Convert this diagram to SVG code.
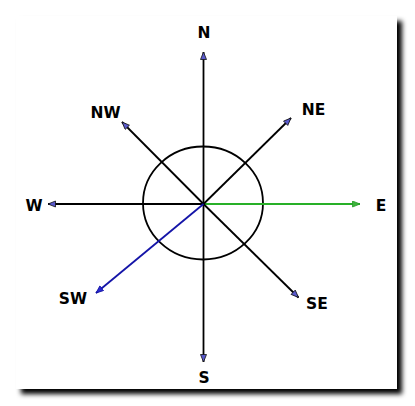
<svg xmlns="http://www.w3.org/2000/svg" width="415" height="406" viewBox="0 0 415 406">
<style>
.lbl{font-family:"DejaVu Sans",sans-serif;font-weight:bold;font-size:15.5px;fill:#000;text-anchor:middle}
.ln{stroke:#000;stroke-width:1.8;fill:none}
</style>
<defs>
<filter id="sh" x="-10%" y="-10%" width="125%" height="125%">
<feGaussianBlur in="SourceAlpha" stdDeviation="2.8" result="b"/>
<feOffset in="b" dx="5" dy="5" result="o"/>
<feComponentTransfer in="o" result="o2"><feFuncA type="linear" slope="1"/></feComponentTransfer>
<feMerge><feMergeNode in="o2"/><feMergeNode in="SourceGraphic"/></feMerge>
</filter>
<marker id="ah" markerWidth="10" markerHeight="8" refX="8" refY="3.5" orient="auto" markerUnits="userSpaceOnUse">
<path d="M0.5,0.5 L8,3.5 L0.5,6.5 Z" fill="#5a5acc" stroke="#111" stroke-width="0.8"/>
</marker>
<marker id="ahg" markerWidth="10" markerHeight="8" refX="8" refY="3.5" orient="auto" markerUnits="userSpaceOnUse">
<path d="M0.5,0.5 L8,3.5 L0.5,6.5 Z" fill="#3cb43c" stroke="#2a9a2a" stroke-width="0.8"/>
</marker>
<marker id="ahb" markerWidth="10" markerHeight="8" refX="8" refY="3.5" orient="auto" markerUnits="userSpaceOnUse">
<path d="M0.5,0.5 L8,3.5 L0.5,6.5 Z" fill="#2a2ad0" stroke="#1010a0" stroke-width="0.8"/>
</marker>
</defs>
<rect x="16" y="16" width="381" height="373" fill="#fff" filter="url(#sh)"/>
<g id="circle"><ellipse cx="203" cy="203" rx="60" ry="56.5" class="ln"/></g>
<g id="connectors">
<line x1="203.5" y1="204" x2="203.5" y2="52" class="ln" marker-end="url(#ah)"/>
<line x1="203.5" y1="204" x2="203.5" y2="362" class="ln" marker-end="url(#ah)"/>
<line x1="203.5" y1="204" x2="48" y2="204" class="ln" marker-end="url(#ah)"/>
<line x1="203.5" y1="204" x2="360" y2="204" stroke="#28b028" stroke-width="1.8" marker-end="url(#ahg)"/>
<line x1="203.5" y1="204" x2="291" y2="118" class="ln" marker-end="url(#ah)"/>
<line x1="203.5" y1="204" x2="122" y2="122" class="ln" marker-end="url(#ah)"/>
<line x1="203.5" y1="204" x2="298.5" y2="297.5" class="ln" marker-end="url(#ah)"/>
<line x1="203.5" y1="204" x2="96" y2="293" stroke="#1414a8" stroke-width="1.8" marker-end="url(#ahb)"/>
</g>
<g id="N"><text class="lbl" x="204" y="38">N</text></g>
<g id="S"><text class="lbl" x="204" y="383">S</text></g>
<g id="W"><text class="lbl" x="34" y="211">W</text></g>
<g id="E"><text class="lbl" x="381" y="211">E</text></g>
<g id="NE"><text class="lbl" x="313.5" y="115">NE</text></g>
<g id="NW"><text class="lbl" x="105.5" y="117.5">NW</text></g>
<g id="SE"><text class="lbl" x="317" y="309">SE</text></g>
<g id="SW"><text class="lbl" x="73" y="304">SW</text></g>
</svg>
